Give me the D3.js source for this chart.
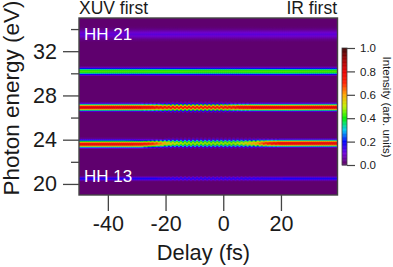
<!DOCTYPE html>
<html>
<head>
<meta charset="utf-8">
<script src="https://cdn.jsdelivr.net/npm/d3@7"></script>
<style>
html, body {margin: 0; padding: 0; background: #fff;}
text {font-family: "Liberation Sans", Arial, sans-serif; fill: #1a1a1a;}
</style>
</head>
<body>
<script>
// Delay samples, one per half cycle of the IR field (fs)
var delays = [-50,-48.6,-47.2,-45.8,-44.4,-43,-41.6,-40.2,-38.8,-37.4,-36,-34.6,-33.2,-31.8,-30.4,-29,-27.6,-26.2,-24.8,-23.4,-22,-20.6,-19.2,-17.8,-16.4,-15,-13.6,-12.2,-10.8,-9.4,-8,-6.6,-5.2,-3.8,-2.4,-1,0.4,1.8,3.2,4.6,6,7.4,8.8,10.2,11.6,13,14.4,15.8,17.2,18.6,20,21.4,22.8,24.2,25.6,27,28.4,29.8,31.2,32.6,34,35.4,36.8,38.2,39.6];

// Peak intensity of each harmonic at those delays
var hh13Peak = [.16,.16,.16,.16,.16,.16,.16,.16,.16,.16,.16,.16,.16,.16,.16,.16,.16,.16,.16,.16,.15,.15,.15,.15,.15,.15,.15,.15,.15,.15,.15,.15,.15,.15,.15,.15,.15,.15,.15,.15,.15,.15,.15,.15,.15,.15,.15,.15,.15,.15,.15,.16,.16,.16,.16,.16,.16,.16,.16,.16,.16,.16,.16,.16,.16];
var hh15Peak = [.74,.74,.74,.74,.74,.74,.74,.74,.74,.74,.74,.74,.74,.74,.73,.73,.72,.71,.69,.66,.62,.58,.54,.51,.49,.48,.47,.47,.47,.47,.47,.47,.47,.47,.47,.47,.47,.47,.47,.48,.49,.51,.54,.57,.6,.64,.68,.7,.72,.73,.74,.74,.74,.74,.74,.74,.74,.74,.74,.74,.74,.74,.74,.74,.74];
var hh17Peak = [.76,.76,.76,.76,.76,.76,.76,.76,.76,.76,.76,.76,.76,.76,.76,.76,.75,.75,.74,.73,.72,.72,.71,.71,.7,.7,.7,.7,.7,.7,.7,.7,.7,.7,.7,.7,.71,.71,.72,.73,.74,.75,.75,.76,.76,.76,.76,.76,.76,.76,.76,.76,.76,.76,.76,.76,.76,.76,.76,.76,.76,.76,.76,.76,.76];
var hh19Peak = [.42,.42,.42,.42,.42,.42,.42,.42,.42,.42,.42,.42,.42,.42,.42,.42,.42,.42,.42,.42,.42,.42,.42,.42,.42,.42,.42,.42,.42,.42,.42,.42,.42,.42,.42,.42,.42,.42,.42,.42,.42,.42,.42,.42,.42,.42,.42,.42,.42,.42,.42,.42,.42,.42,.42,.42,.42,.42,.42,.42,.42,.42,.42,.42,.42];
var hh21Peak = [.1,.1,.1,.1,.1,.1,.1,.1,.1,.1,.1,.1,.1,.1,.1,.1,.1,.1,.1,.1,.1,.1,.1,.1,.1,.1,.1,.1,.1,.1,.1,.1,.1,.1,.1,.1,.1,.1,.1,.1,.1,.1,.1,.1,.1,.1,.1,.1,.1,.1,.1,.1,.1,.1,.1,.1,.1,.1,.1,.1,.1,.1,.1,.1,.1];

// How far the line jumps up and down inside a half cycle (eV)
var hh13Swing = [0,0,0,0,0,0,0,0,0,0,0,0,0,0,0,0,0,0,0,0,0,.01,.01,.02,.02,.03,.03,.03,.03,.03,.03,.03,.03,.03,.03,.03,.03,.03,.03,.03,.03,.02,.02,.02,.01,.01,0,0,0,0,0,0,0,0,0,0,0,0,0,0,0,0,0,0,0];
var hh15Swing = [0,0,0,0,0,0,0,0,0,0,0,0,0,0,0,0,.01,.01,.01,.02,.02,.03,.03,.04,.04,.04,.05,.05,.05,.05,.05,.05,.05,.05,.05,.05,.05,.05,.05,.05,.04,.04,.04,.03,.03,.02,.02,.01,.01,.01,0,0,0,0,0,0,0,0,0,0,0,0,0,0,0];
var hh17Swing = [0,0,0,0,0,0,0,0,0,0,0,0,0,0,0,0,.01,.01,.01,.02,.02,.03,.03,.04,.04,.04,.04,.04,.04,.04,.04,.04,.04,.04,.04,.04,.03,.03,.02,.02,.01,.01,.01,0,0,0,0,0,0,0,0,0,0,0,0,0,0,0,0,0,0,0,0,0,0];

// Centre of each harmonic (eV), HH15 drifts a little
var hh15Center = [23.63,23.63,23.63,23.63,23.63,23.63,23.63,23.63,23.63,23.63,23.63,23.63,23.63,23.63,23.63,23.63,23.64,23.65,23.66,23.67,23.68,23.69,23.7,23.7,23.7,23.7,23.7,23.7,23.7,23.7,23.7,23.7,23.7,23.7,23.7,23.7,23.7,23.7,23.7,23.7,23.7,23.7,23.7,23.7,23.7,23.7,23.7,23.7,23.7,23.7,23.7,23.7,23.7,23.7,23.7,23.7,23.7,23.7,23.7,23.7,23.7,23.7,23.7,23.7,23.7];
var hh13Center = 20.5, hh17Center = 26.95, hh19Center = 30.2, hh21Center = 33.55;

// Blue shoulder sitting just above HH15 at early delays
var hh15Shoulder = [.24,.24,.24,.24,.24,.24,.24,.24,.24,.24,.24,.24,.23,.22,.21,.19,.16,.13,.1,.07,.04,.02,.01,0,0,0,0,0,0,0,0,0,0,0,0,0,0,0,0,0,0,0,0,0,0,0,0,0,0,0,0,0,0,0,0,0,0,0,0,0,0,0,0,0,0];

// Line shapes: distance from centre (eV) and fraction of the peak
var narrowOffsets = [-.45,-.36,-.27,-.18,-.09,0,.09,.18,.27,.36,.45];
var narrowShape = [0,.14,.42,.74,.94,1,.94,.74,.42,.14,0];
var thinOffsets = [-.25,-.15,-.08,0,.08,.15,.25];
var thinShape = [0,.3,.8,1,.8,.3,0];
var broadOffsets = [-.7,-.45,-.2,0,.2,.45,.7];
var broadShape = [0,.22,.72,1,.72,.22,0];

var backgroundLevel = .02;

var xTicks = [-40, -20, 0, 20];
var yTicks = [20, 24, 28, 32];
var yMinorTicks = [22, 26, 30, 34];
var barTicks = [0, .2, .4, .6, .8, 1];

var colorStops = [0, .02, .1, .2, .3, .4, .5, .6, .7, .8, .9, 1];
var colorValues = ["#590a72", "#5f006e", "#7000d8", "#0000ff", "#00c8f0", "#00f000", "#c0f000", "#ffa800", "#ff2000", "#e80000", "#a00000", "#3a0000"];

var margin = {top: 18, right: 55.5, bottom: 72, left: 79};
var width = 393 - margin.left - margin.right,
    height = 267 - margin.top - margin.bottom;

var x = d3.scaleLinear().domain([-50, 39.6]).range([0, width]);
var y = d3.scaleLinear().domain([19, 35]).range([height, 0]);
var color = d3.scaleLinear().domain(colorStops).range(colorValues);

var svg = d3.select("body").append("svg")
    .attr("width", 393)
    .attr("height", 267)
    .style("display", "block");

var defs = svg.append("defs");
defs.append("clipPath").attr("id", "plotClip").append("rect")
    .attr("width", width).attr("height", height);
defs.append("filter").attr("id", "soften")
    .attr("x", "-5%").attr("y", "-5%").attr("width", "110%").attr("height", "110%")
    .append("feGaussianBlur").attr("stdDeviation", .45);

var plot = svg.append("g")
    .attr("transform", "translate(" + margin.left + "," + margin.top + ")");

var clipped = plot.append("g").attr("clip-path", "url(#plotClip)");
clipped.append("rect")
    .attr("width", width).attr("height", height)
    .attr("fill", color(backgroundLevel));

// One cell per half-cycle piece and energy row, for the lit rows only
var halfStep = 0.7, rowStep = 0.09;

function addCells(cells, center, peak, swing, offsets, shape) {
    var profile = d3.scaleLinear().domain(offsets).range(shape).clamp(true);
    var reach = offsets[offsets.length - 1] + 0.2;
    delays.forEach(function(delay, i) {
        [-1, 1].forEach(function(side) {
            var mid = typeof center === "number" ? center : center[i];
            var jump = swing ? swing[i] * side : 0;
            for (var k = -Math.round(reach / rowStep); k <= Math.round(reach / rowStep); k++) {
                var energy = (typeof center === "number" ? center : 23.7) + k * rowStep;
                var level = peak[i] * profile(energy - mid - jump);
                if (level > 0.005) {
                    cells.push({delay: side < 0 ? delay - halfStep : delay, energy: energy, level: backgroundLevel + level});
                }
            }
        });
    });
}

var cells = [];
addCells(cells, hh13Center, hh13Peak, hh13Swing, thinOffsets, thinShape);
addCells(cells, hh15Center, hh15Peak, hh15Swing, narrowOffsets, narrowShape);
addCells(cells, hh15Center.map(function(e) {return e + .3;}), hh15Shoulder, null, thinOffsets, thinShape);
addCells(cells, hh17Center, hh17Peak, hh17Swing, narrowOffsets, narrowShape);
addCells(cells, hh19Center, hh19Peak, null, narrowOffsets, narrowShape);
addCells(cells, hh21Center, hh21Peak, null, broadOffsets, broadShape);

// Shoulder and main line overlap, keep the brighter of the two
var best = d3.rollup(cells, function(v) {return d3.greatest(v, function(c) {return c.level;});},
    function(c) {return c.delay + "|" + c.energy.toFixed(3);});

clipped.append("g").attr("filter", "url(#soften)")
    .selectAll("rect")
    .data(Array.from(best.values()))
    .enter().append("rect")
    .attr("x", function(d) {return x(d.delay);})
    .attr("y", function(d) {return y(d.energy + rowStep / 2);})
    .attr("width", x(halfStep) - x(0) + .3)
    .attr("height", y(0) - y(rowStep) + .3)
    .attr("fill", function(d) {return color(d.level);});

var tickColor = "#444";

plot.append("rect")
    .attr("width", width).attr("height", height)
    .attr("fill", "none").attr("stroke", tickColor).attr("stroke-width", 1.4);

// Axes
var xAxis = plot.append("g")
    .attr("transform", "translate(0," + height + ")")
    .call(d3.axisBottom(x).tickValues(xTicks).tickSize(16).tickPadding(5).tickSizeOuter(0).tickFormat(function(d) {return String(d);}));
var yAxis = plot.append("g")
    .call(d3.axisLeft(y).tickValues(yTicks).tickSize(16).tickPadding(6).tickSizeOuter(0));
plot.append("g")
    .call(d3.axisLeft(y).tickValues(yMinorTicks).tickSize(8).tickFormat("").tickSizeOuter(0))
    .call(function(g) {g.select(".domain").remove();})
    .selectAll("line").attr("stroke", tickColor).attr("stroke-width", 1.3);

[xAxis, yAxis].forEach(function(g) {
    g.select(".domain").remove();
    g.selectAll("line").attr("stroke", tickColor).attr("stroke-width", 1.3);
    g.selectAll("text").style("font-size", "21.5px").attr("fill", "#1a1a1a");
});

// Titles
svg.append("text").attr("x", 203.5).attr("y", 260)
    .attr("text-anchor", "middle").style("font-size", "21.8px").text("Delay (fs)");
svg.append("text")
    .attr("transform", "translate(19,98) rotate(-90)")
    .attr("text-anchor", "middle").style("font-size", "22.5px").text("Photon energy (eV)");
svg.append("text").attr("x", 79).attr("y", 13.5).style("font-size", "17.5px").text("XUV first");
svg.append("text").attr("x", 337).attr("y", 13.5)
    .attr("text-anchor", "end").style("font-size", "17.5px").text("IR first");
svg.append("text").attr("x", 84).attr("y", 39.5)
    .style("font-size", "17px").style("fill", "#fff").text("HH 21");
svg.append("text").attr("x", 84).attr("y", 182)
    .style("font-size", "17px").style("fill", "#fff").text("HH 13");

// Colour bar
var barX = 342, barWidth = 5;
var barScale = d3.scaleLinear().domain([0, 1]).range([165, 48]);
var bar = svg.append("g");
bar.selectAll("rect")
    .data(d3.range(0, 1, .005))
    .enter().append("rect")
    .attr("x", barX).attr("width", barWidth)
    .attr("y", function(d) {return barScale(d + .005);})
    .attr("height", barScale(0) - barScale(.005) + .4)
    .attr("fill", function(d) {return color(d);});
bar.append("rect")
    .attr("x", barX).attr("y", 48).attr("width", barWidth).attr("height", 117)
    .attr("fill", "none").attr("stroke", tickColor).attr("stroke-width", .8);

var barAxis = svg.append("g")
    .attr("transform", "translate(" + (barX + barWidth) + ",0)")
    .call(d3.axisRight(barScale).tickValues(barTicks).tickSize(8).tickPadding(5).tickSizeOuter(0).tickFormat(d3.format(".1f")));
barAxis.select(".domain").remove();
barAxis.selectAll("line").attr("stroke", tickColor).attr("stroke-width", 1.2);
barAxis.selectAll("text").style("font-size", "11.5px").attr("fill", "#1a1a1a");

svg.append("text")
    .attr("transform", "translate(383,107) rotate(90)")
    .attr("text-anchor", "middle").style("font-size", "11.5px").text("Intensity (arb. units)");
</script>
</body>
</html>
